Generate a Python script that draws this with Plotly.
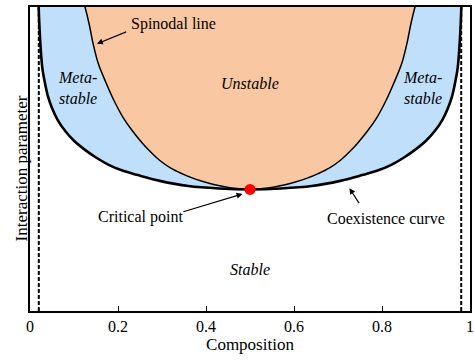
import plotly.graph_objects as go

# Coexistence (binodal) curve, left half (composition, interaction parameter)
binodal_x_left = [0.019, 0.021, 0.024, 0.028, 0.034, 0.041, 0.05, 0.063, 0.08, 0.1,
                  0.125, 0.15, 0.18, 0.21, 0.245, 0.295, 0.36, 0.43, 0.5]
binodal_y_left = [1.03, 0.95, 0.87, 0.80, 0.75, 0.705, 0.668, 0.628, 0.592, 0.56,
                  0.53, 0.505, 0.48, 0.462, 0.447, 0.428, 0.411, 0.403, 0.40]
# Coexistence curve, right half
binodal_x_right = [0.57, 0.64, 0.705, 0.755, 0.79, 0.82, 0.85, 0.875, 0.9, 0.92,
                   0.937, 0.95, 0.959, 0.966, 0.972, 0.976, 0.979, 0.981]
binodal_y_right = [0.403, 0.411, 0.428, 0.447, 0.462, 0.48, 0.505, 0.53, 0.56, 0.592,
                   0.628, 0.668, 0.705, 0.75, 0.80, 0.87, 0.95, 1.03]
# Spinodal line, left half
spinodal_x_left = [0.118, 0.125, 0.135, 0.143, 0.155, 0.173, 0.19, 0.211, 0.233, 0.255,
                   0.275, 0.295, 0.32, 0.345, 0.37, 0.395, 0.42, 0.445, 0.47, 0.5]
spinodal_y_left = [1.03, 1.0, 0.94, 0.882, 0.815, 0.75, 0.695, 0.638, 0.592, 0.553,
                   0.522, 0.495, 0.47, 0.452, 0.437, 0.425, 0.415, 0.408, 0.403, 0.40]
# Spinodal line, right half
spinodal_x_right = [0.53, 0.555, 0.58, 0.605, 0.63, 0.655, 0.68, 0.705, 0.725, 0.745,
                    0.767, 0.789, 0.81, 0.827, 0.845, 0.857, 0.865, 0.875, 0.882]
spinodal_y_right = [0.403, 0.408, 0.415, 0.425, 0.437, 0.452, 0.47, 0.495, 0.522, 0.553,
                    0.592, 0.638, 0.695, 0.75, 0.815, 0.882, 0.94, 1.0, 1.03]

critical_x = [0.5]
critical_y = [0.40]
dashed_x = [0.02, 0.98]
tick_vals = [0, 0.2, 0.4, 0.6, 0.8, 1]
tick_text = ["0", "0.2", "0.4", "0.6", "0.8", "1"]

bx = binodal_x_left + binodal_x_right
by = binodal_y_left + binodal_y_right
sx = spinodal_x_left + spinodal_x_right
sy = spinodal_y_left + spinodal_y_right

FONT = "Times New Roman, Liberation Serif, Tinos, DejaVu Serif, serif"
fig = go.Figure()

for dx in dashed_x:
    fig.add_trace(go.Scatter(x=[dx, dx], y=[0, 1.05], mode="lines",
                             line=dict(color="black", width=2, dash="4px,2px"),
                             hoverinfo="skip", showlegend=False))

# metastable fill (binodal closed along top)
fig.add_trace(go.Scatter(x=bx + [bx[-1], bx[0]], y=by + [1.2, 1.2], mode="lines",
                         fill="toself", fillcolor="#bfdffa",
                         line=dict(width=0, color="rgba(0,0,0,0)", shape="spline"),
                         hoverinfo="skip", showlegend=False))
# unstable fill
fig.add_trace(go.Scatter(x=sx + [sx[-1], sx[0]], y=sy + [1.2, 1.2], mode="lines",
                         fill="toself", fillcolor="#f9c8a3",
                         line=dict(width=0, color="rgba(0,0,0,0)", shape="spline"),
                         hoverinfo="skip", showlegend=False))
fig.add_trace(go.Scatter(x=sx, y=sy, mode="lines",
                         line=dict(color="black", width=1.5, shape="spline"),
                         hoverinfo="skip", showlegend=False))
fig.add_trace(go.Scatter(x=bx, y=by, mode="lines",
                         line=dict(color="black", width=2.6, shape="spline"),
                         hoverinfo="skip", showlegend=False))
fig.add_trace(go.Scatter(x=critical_x, y=critical_y, mode="markers",
                         marker=dict(color="#ff0000", size=11, line=dict(width=0)),
                         hoverinfo="skip", showlegend=False))

txt = dict(family=FONT, size=16, color="black")
fig.add_annotation(x=0.152, y=0.879, ax=0.222, ay=0.92, axref="x", ayref="y",
                   text="", showarrow=True, arrowhead=2, arrowsize=1, arrowwidth=1.2,
                   arrowcolor="black")
fig.add_annotation(x=0.226, y=0.945, text="Spinodal line", showarrow=False,
                   xanchor="left", font=txt)
fig.add_annotation(x=0.107, y=0.735, text="<i>Meta-<br>stable</i>", showarrow=False, font=txt)
fig.add_annotation(x=0.891, y=0.735, text="<i>Meta-<br>stable</i>", showarrow=False, font=txt)
fig.add_annotation(x=0.5, y=0.75, text="<i>Unstable</i>", showarrow=False, font=txt)
fig.add_annotation(x=0.5, y=0.135, text="<i>Stable</i>", showarrow=False, font=txt)
fig.add_annotation(x=0.483, y=0.385, ax=0.345, ay=0.325, axref="x", ayref="y",
                   text="", showarrow=True, arrowhead=2, arrowsize=1, arrowwidth=1.2,
                   arrowcolor="black")
fig.add_annotation(x=0.252, y=0.31, text="Critical point", showarrow=False, font=txt)
fig.add_annotation(x=0.726, y=0.404, ax=0.75, ay=0.35, axref="x", ayref="y",
                   text="", showarrow=True, arrowhead=2, arrowsize=1, arrowwidth=1.2,
                   arrowcolor="black")
fig.add_annotation(x=0.81, y=0.305, text="Coexistence curve", showarrow=False, font=txt)
fig.add_annotation(x=-0.046, y=0.47, xref="paper", yref="paper",
                   text="Interaction parameter", textangle=-90, showarrow=False,
                   font=dict(family=FONT, size=17, color="black"))

fig.update_layout(
    width=474, height=363,
    margin=dict(l=30, r=4, t=7, b=52, autoexpand=False),
    plot_bgcolor="white", paper_bgcolor="white",
    font=dict(family=FONT, size=16, color="black"),
    xaxis=dict(range=[0, 1], tickvals=tick_vals, ticktext=tick_text,
               ticks="inside", ticklen=5, tickwidth=1.2, tickcolor="black",
               showline=True, linecolor="black", linewidth=2, mirror=True,
               showgrid=False, zeroline=False, automargin=False,
               tickfont=dict(family=FONT, size=16),
               title=dict(text="Composition", font=dict(family=FONT, size=17), standoff=4)),
    yaxis=dict(range=[0, 1], showticklabels=False, ticks="",
               showline=True, linecolor="black", linewidth=2, mirror=True,
               showgrid=False, zeroline=False, automargin=False),
)

fig.write_html("out.html", config={"displayModeBar": False},
               post_script="document.body.style.margin='0';document.body.style.overflow='hidden';")
